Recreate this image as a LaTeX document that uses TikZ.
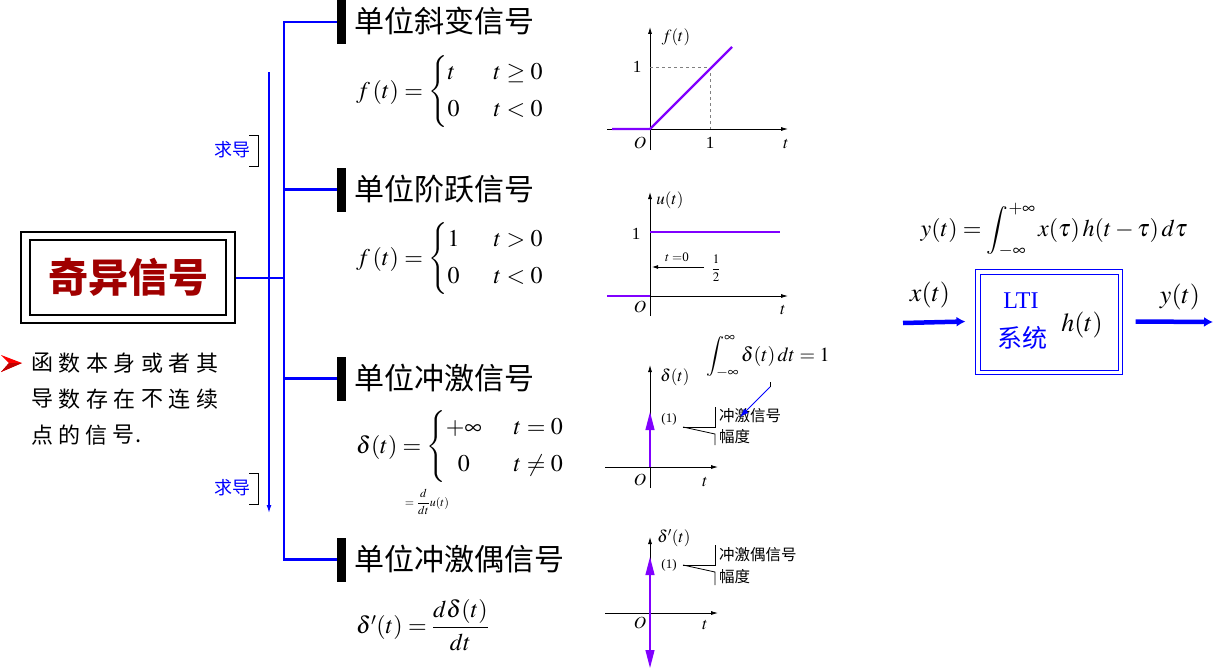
\documentclass[tikz,border=0pt]{standalone}
\usepackage{amsmath}
\usepackage{mathptmx}
\usepackage{fontspec}
\setmainfont{Liberation Serif}
\newfontfamily\cjk{Noto Sans CJK SC}
\usetikzlibrary{positioning, arrows.meta}
\definecolor{sigblue}{RGB}{0,0,255}
\definecolor{sigpurple}{RGB}{128,0,255}
\definecolor{sigred}{RGB}{160,0,0}

\begin{document}
\begin{tikzpicture}[x=1pt, y=-1pt,
    title/.style={anchor=west, inner sep=0pt, text height=26pt, text depth=4pt, font=\cjk\fontsize{30}{32}\selectfont},
    formula/.style={anchor=west, inner sep=0pt, font=\fontsize{24}{28}\selectfont},
    trunk/.style={sigblue, line width=2.6pt},
    bar/.style={fill=black, minimum width=9pt, minimum height=44pt, inner sep=0pt},
    axis/.style={-{Latex[length=7pt,width=4pt]}, line width=0.8pt},
    signal/.style={sigpurple, line width=2.2pt},
    impulse/.style={sigpurple, line width=1.2pt, -{Triangle[length=18pt,width=9pt]}},
    axlabel/.style={font=\fontsize{17}{19}\selectfont, inner sep=0pt},
    note/.style={font=\cjk\fontsize{15.5}{17}\selectfont, anchor=west, inner sep=0pt},
    deriv/.style={font=\cjk\fontsize{18}{20}\selectfont, text=sigblue, inner sep=0pt},
    desc/.style={font=\cjk\fontsize{22}{24}\selectfont, inner sep=0pt},
    flow/.style={sigblue, line width=4.5pt, -{Latex[length=9pt,width=10pt]}}
]

\useasboundingbox (0,0) rectangle (1214,669);

% singular signals box
\node[draw, line width=1.2pt, minimum width=214pt, minimum height=91pt] (singout) at (128,277.5) {};
\node[draw, line width=1.2pt, minimum width=196pt, minimum height=75pt, inner sep=0pt,
      font=\cjk\bfseries\fontsize{40}{42}\selectfont, text=sigred] (sing) at (128,277.5) {奇异信号};

% tree
\node[bar] (b1) at (341.5,22) {};
\node[bar] (b2) at (341.5,189.5) {};
\node[bar] (b3) at (341.5,378.5) {};
\node[bar] (b4) at (341.5,559.5) {};
\coordinate (top) at (284,22);
\coordinate (bot) at (284,559.5);
\draw[trunk] (b1.west) -- (top) -- (bot) -- (b4.west);
\draw[trunk] (b2.west) -- (b2.west -| top);
\draw[trunk] (b3.west) -- (b3.west -| top);
\draw[sigblue, line width=2pt] (singout.east) -- (singout.east -| top);

\node[title, right=8pt of b1] (t1) {单位斜变信号};
\node[title, right=8pt of b2] (t2) {单位阶跃信号};
\node[title, right=8pt of b3] (t3) {单位冲激信号};
\node[title, right=8pt of b4] (t4) {单位冲激偶信号};

% derivative direction
\coordinate (dtop) at (269,72);
\coordinate (dbot) at (269,513);
\draw[sigblue, line width=1.3pt, -{Latex[length=8pt,width=5pt]}] (dtop) -- (dbot);
\node[deriv] (d1) at (232,150) {求导};
\node[deriv] (d2) at (232,488) {求导};
\draw[line width=1pt] ([shift={(-1,-15)}]d1.east) -- ++(9,0) -- ++(0,31) -- ++(-9,0);
\draw[line width=1pt] ([shift={(-1,-15)}]d2.east) -- ++(9,0) -- ++(0,31) -- ++(-9,0);

% description
\fill[red] (1,355) -- (22,363) -- (1,372) -- (9,363) -- cycle;
\fill[red!75!black] (9,363) -- (22,363) -- (1,372) -- cycle;
\foreach \c [count=\i from 0] in {函,数,本,身,或,者,其}
    \node[desc] (da\i) at (42+27.5*\i,363) {\c};
\foreach \c [count=\i from 0] in {导,数,存,在,不,连,续}
    \node[desc] (db\i) at (42+27.5*\i,399) {\c};
\foreach \c [count=\i from 0] in {点,的,信,号}
    \node[desc] (dc\i) at (42+27.3*\i,435) {\c};
\node[desc, anchor=base west] (dcdot) at (dc3.base east) {.};

% formulas
\node[formula] (f1) at (356,92) {$f\,(t)=\left\{\begin{array}{@{}l@{\hspace{34pt}}l} t & t\ge 0\\[9pt] 0 & t<0\end{array}\right.$};
\node[formula] (f2) at (356,259) {$f\,(t)=\left\{\begin{array}{@{}l@{\hspace{34pt}}l} 1 & t>0\\[9pt] 0 & t<0\end{array}\right.$};
\node[formula] (f3) at (356,447) {$\delta(t)=\left\{\begin{array}{@{}c@{\hspace{32pt}}l} +\infty & t=0\\[9pt] 0 & t\ne 0\end{array}\right.$};
\node[font=\fontsize{12}{14}\selectfont, inner sep=0pt] (f3d) at (427,502) {$=\dfrac{d}{dt}u(t)$};
\node[formula] (f4) at (356,625) {$\delta'(t)=\dfrac{d\delta(t)}{dt}$};

% ramp plot
\draw[axis] (607,129) -- (788,129);
\draw[axis] (650,150) -- (650,27);
\draw[gray, dashed, line width=0.8pt] (650,67) -- (710,67) -- (710,129);
\draw[signal] (612,129) -- (650,129) -- (732,47);
\node[axlabel] (r1) at (637,67) {1};
\node[axlabel] (r2) at (710,143) {1};
\node[axlabel] (ro) at (640,143) {$O$};
\node[axlabel] (rt) at (786,144) {$t$};
\node[axlabel] (rf) at (676,37) {$f(t)$};

% step plot
\draw[axis] (607,296) -- (788,296);
\draw[axis] (650,316) -- (650,192);
\draw[signal] (607,296) -- (650,296);
\draw[signal] (650,232) -- (780,232);
\draw[-{Latex[length=6pt,width=4pt]}, line width=0.8pt] (704,267) -- (652,267);
\node[axlabel] (s1) at (636,234) {1};
\node[axlabel] (su) at (670,200) {$u(t)$};
\node[font=\fontsize{13}{15}\selectfont, inner sep=0pt] (s0) at (677,257) {$t=$0};
\node[font=\fontsize{13}{15}\selectfont, inner sep=0pt] (sh) at (716,268) {$\dfrac{1}{2}$};
\node[axlabel] (so) at (640,307) {$O$};
\node[axlabel] (st) at (783,310) {$t$};

% impulse plot
\draw[axis] (605,467) -- (718,467);
\draw[axis] (650,488) -- (650,365);
\draw[impulse] (650,467) -- (650,412);
\node[axlabel] (id) at (675,377) {$\delta(t)$};
\node[font=\fontsize{13}{15}\selectfont, inner sep=0pt] (i1) at (669,419) {(1)};
\node[axlabel] (io) at (640,480) {$O$};
\node[axlabel] (it) at (705,482) {$t$};
\draw[line width=0.8pt] (683,427) -- (715,427) -- (715,407);
\draw[line width=0.8pt] (683,427) -- (715,434) -- (715,445);
\node[note] (in1) at (719,416) {冲激信号};
\node[note] (in2) at (719,437) {幅度};
\node[font=\fontsize{20}{24}\selectfont, inner sep=0pt] (int) at (768,357) {$\displaystyle\int_{-\infty}^{\infty}\delta(t)\,dt=1$};
\draw[line width=0.8pt] (770,382) -- (770,387);
\draw[sigblue, line width=0.8pt, -{Latex[length=9pt,width=6pt]}] (770,387) -- (740,417);

% doublet plot
\draw[axis] (605,613) -- (718,613);
\draw[axis] (650,625) -- (650,537);
\draw[impulse] (650,613) -- (650,557);
\draw[impulse] (650,613) -- (650,668);
\node[axlabel] (dd) at (674,538) {$\delta'(t)$};
\node[font=\fontsize{13}{15}\selectfont, inner sep=0pt] (d1v) at (669,565) {(1)};
\node[axlabel] (do) at (640,623) {$O$};
\node[axlabel] (dt) at (705,625) {$t$};
\draw[line width=0.8pt] (683,565) -- (715,565) -- (715,545);
\draw[line width=0.8pt] (683,565) -- (715,572) -- (715,585);
\node[note] (dn1) at (719,555) {冲激偶信号};
\node[note] (dn2) at (719,577) {幅度};

% LTI system
\node[formula, anchor=center] (conv) at (1054,230) {$y(t)=\displaystyle\int_{-\infty}^{+\infty}x(\tau)\,h(t-\tau)\,d\tau$};
\node[draw=sigblue, line width=1pt, minimum width=147pt, minimum height=105pt] (ltiout) at (1048.5,321.5) {};
\node[draw=sigblue, line width=1pt, minimum width=138pt, minimum height=96pt] (lti) at (1049,322) {};
\node[text=sigblue, font=\fontsize{24}{26}\selectfont, inner sep=0pt] (ltit) at (1021,301) {LTI};
\node[text=sigblue, font=\cjk\fontsize{25}{27}\selectfont, inner sep=0pt] (sys) at (1022,338) {系统};
\node[font=\fontsize{26}{30}\selectfont, inner sep=0pt] (h) at (1082,325) {$h(t)$};
\coordinate (xin) at (903,323);
\coordinate (yout) at (1213,322);
\draw[flow] (xin) -- ([xshift=-9pt]ltiout.west);
\draw[flow] ([xshift=13pt]ltiout.east) -- (yout);
\node[font=\fontsize{26}{30}\selectfont, inner sep=0pt] (xl) at (930,295) {$x(t)$};
\node[font=\fontsize{26}{30}\selectfont, inner sep=0pt] (yl) at (1180,297) {$y(t)$};

\end{tikzpicture}
\end{document}
